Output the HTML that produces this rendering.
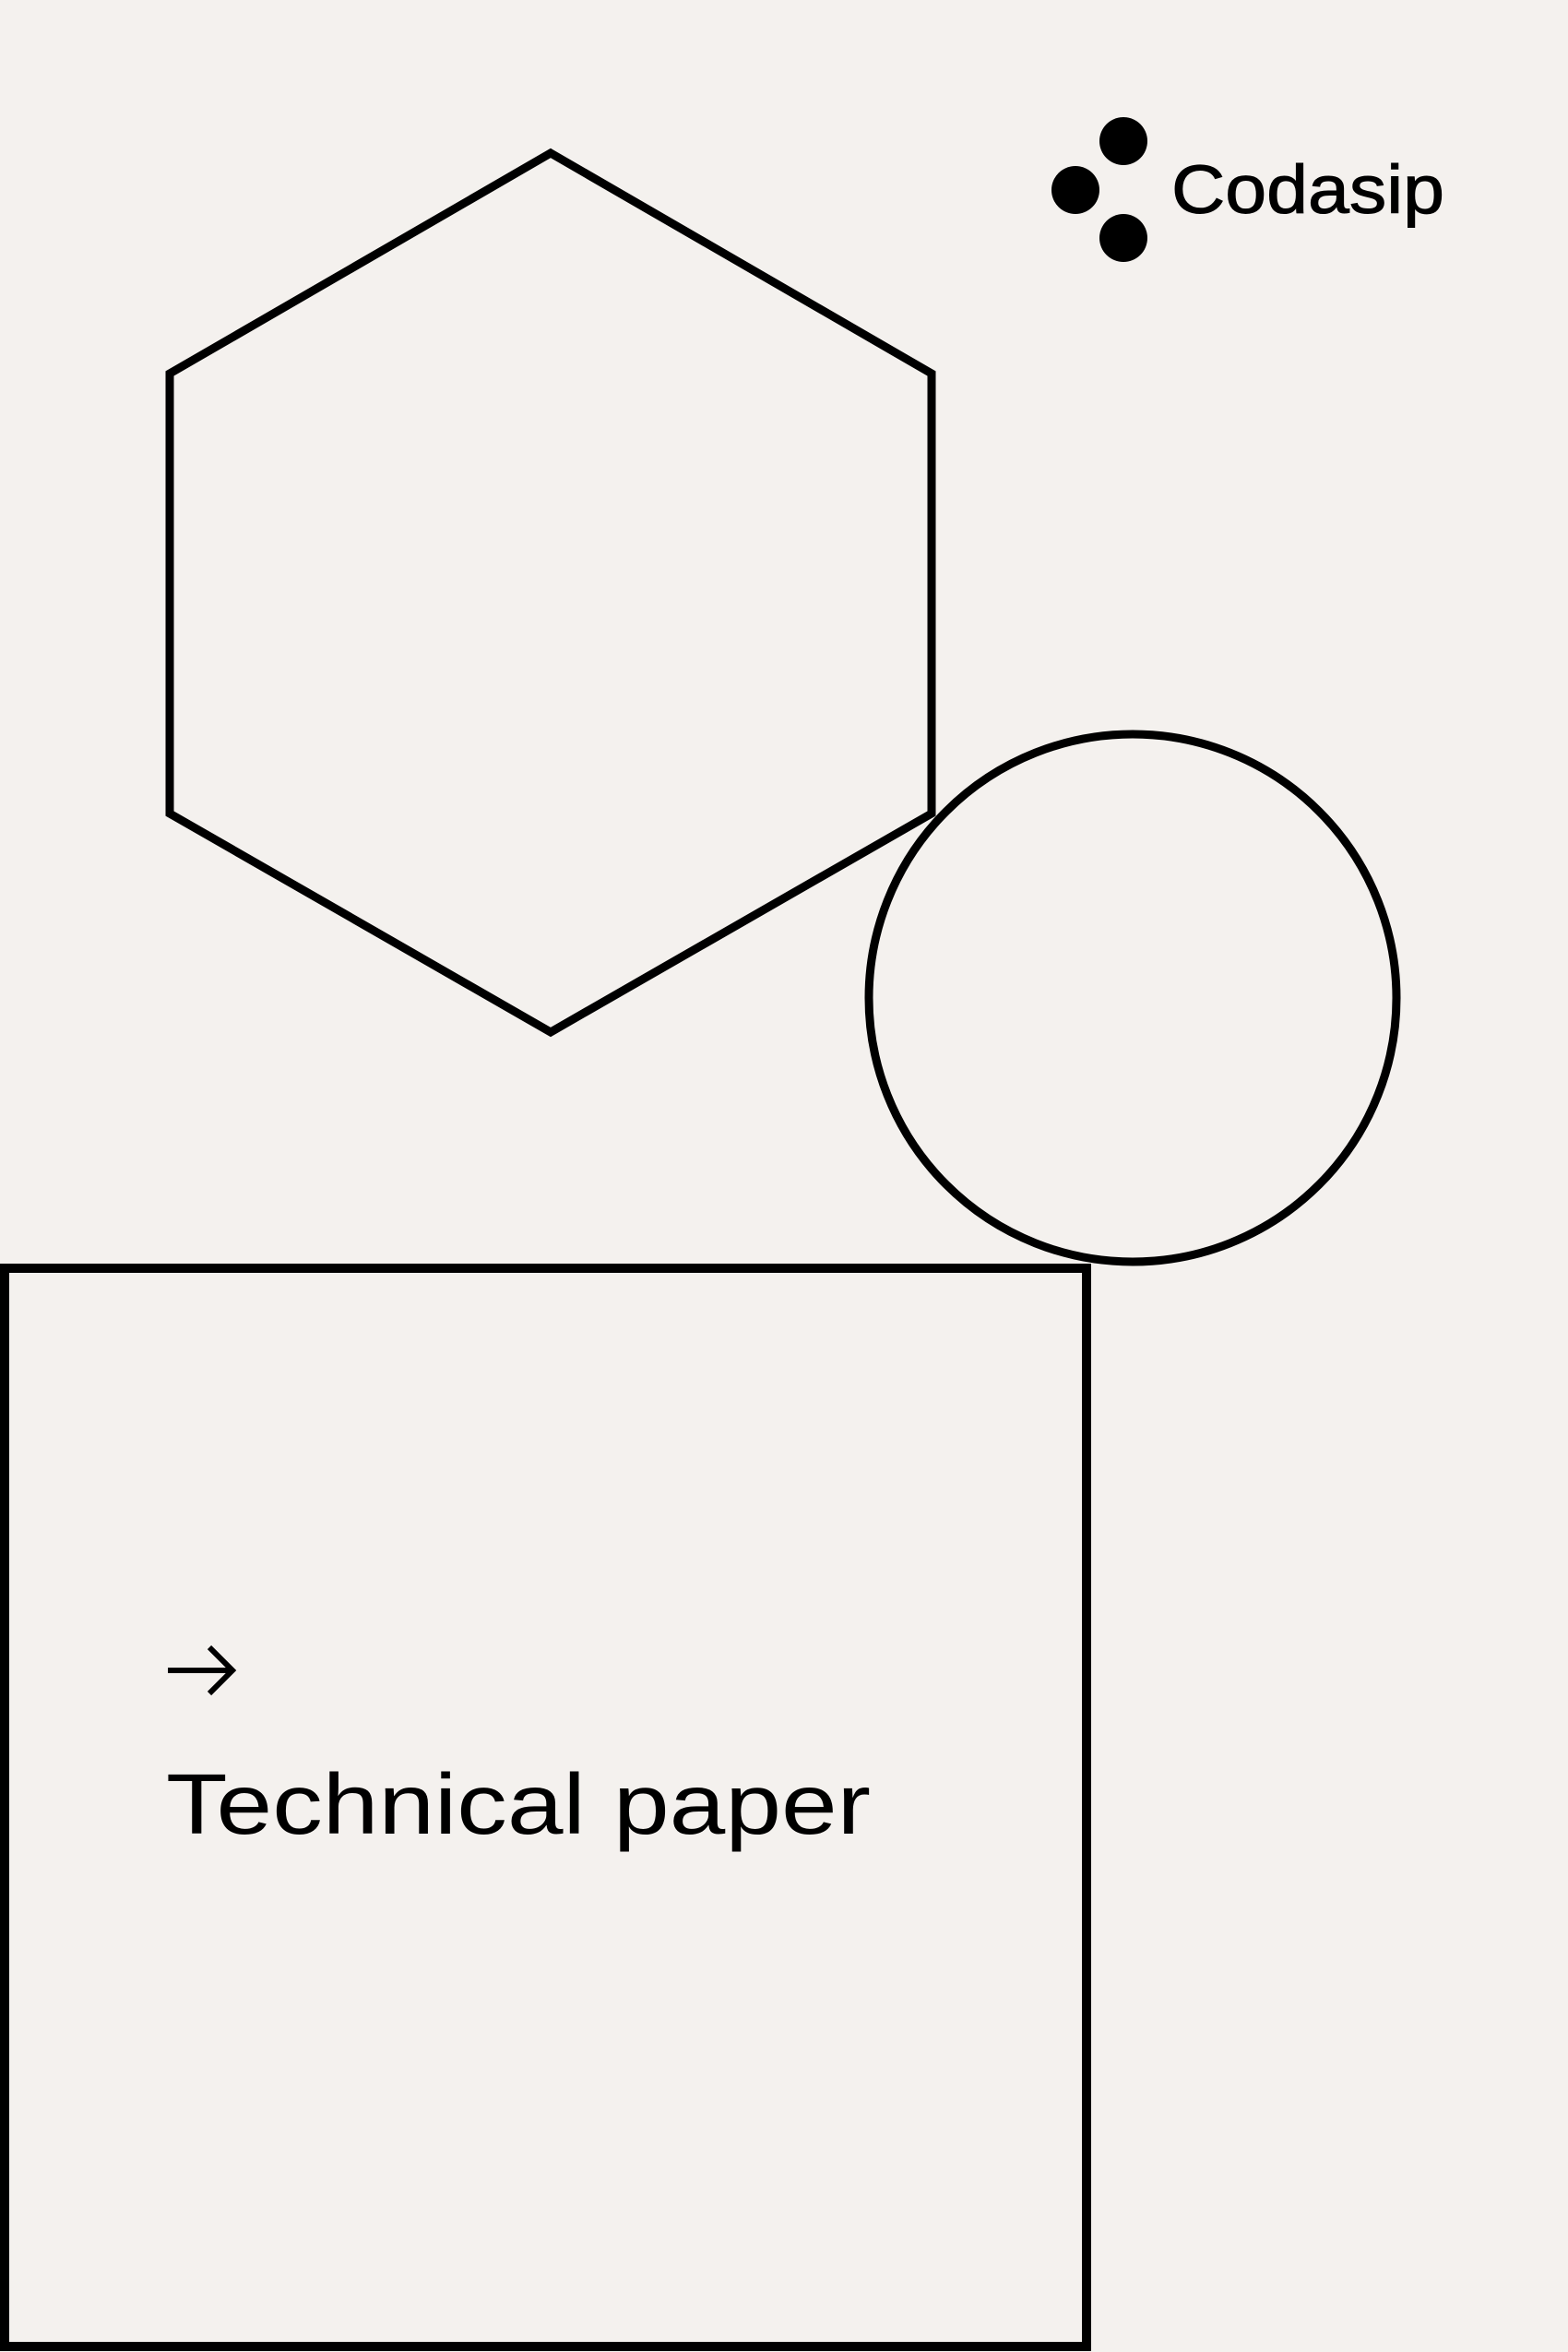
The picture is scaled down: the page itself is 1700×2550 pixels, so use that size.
<!DOCTYPE html>
<html><head><meta charset="utf-8"><style>
html,body{margin:0;padding:0;background:#f4f1ee;}
svg{display:block}
</style></head><body>
<svg width="1700" height="2550" viewBox="0 0 1700 2550" xmlns="http://www.w3.org/2000/svg">
<rect width="1700" height="2550" fill="#f4f1ee"/>
<polygon points="597,166 1010,405 1010,882 597,1119 184,882 184,405" fill="none" stroke="#000" stroke-width="9"/>
<circle cx="1228" cy="1082" r="286" fill="none" stroke="#000" stroke-width="9"/>
<rect x="5" y="1375" width="1173" height="1169" fill="none" stroke="#000" stroke-width="10"/>
<circle cx="1218" cy="153" r="26" fill="#000"/>
<circle cx="1166" cy="206" r="26" fill="#000"/>
<circle cx="1218" cy="258" r="26" fill="#000"/>
<text x="1270" y="231" font-family="Liberation Sans, sans-serif" font-size="74" stroke="#000" stroke-width="1" textLength="296" lengthAdjust="spacingAndGlyphs" fill="#000">Codasip</text>
<g stroke="#000" stroke-width="6" fill="none">
<line x1="182" y1="1811" x2="252" y2="1811"/>
<polyline points="227,1786 252,1811 227,1836"/>
</g>
<text x="180" y="1988" font-family="Liberation Sans, sans-serif" font-size="93" textLength="764" lengthAdjust="spacingAndGlyphs" fill="#000">Technical paper</text>
</svg>
</body></html>
